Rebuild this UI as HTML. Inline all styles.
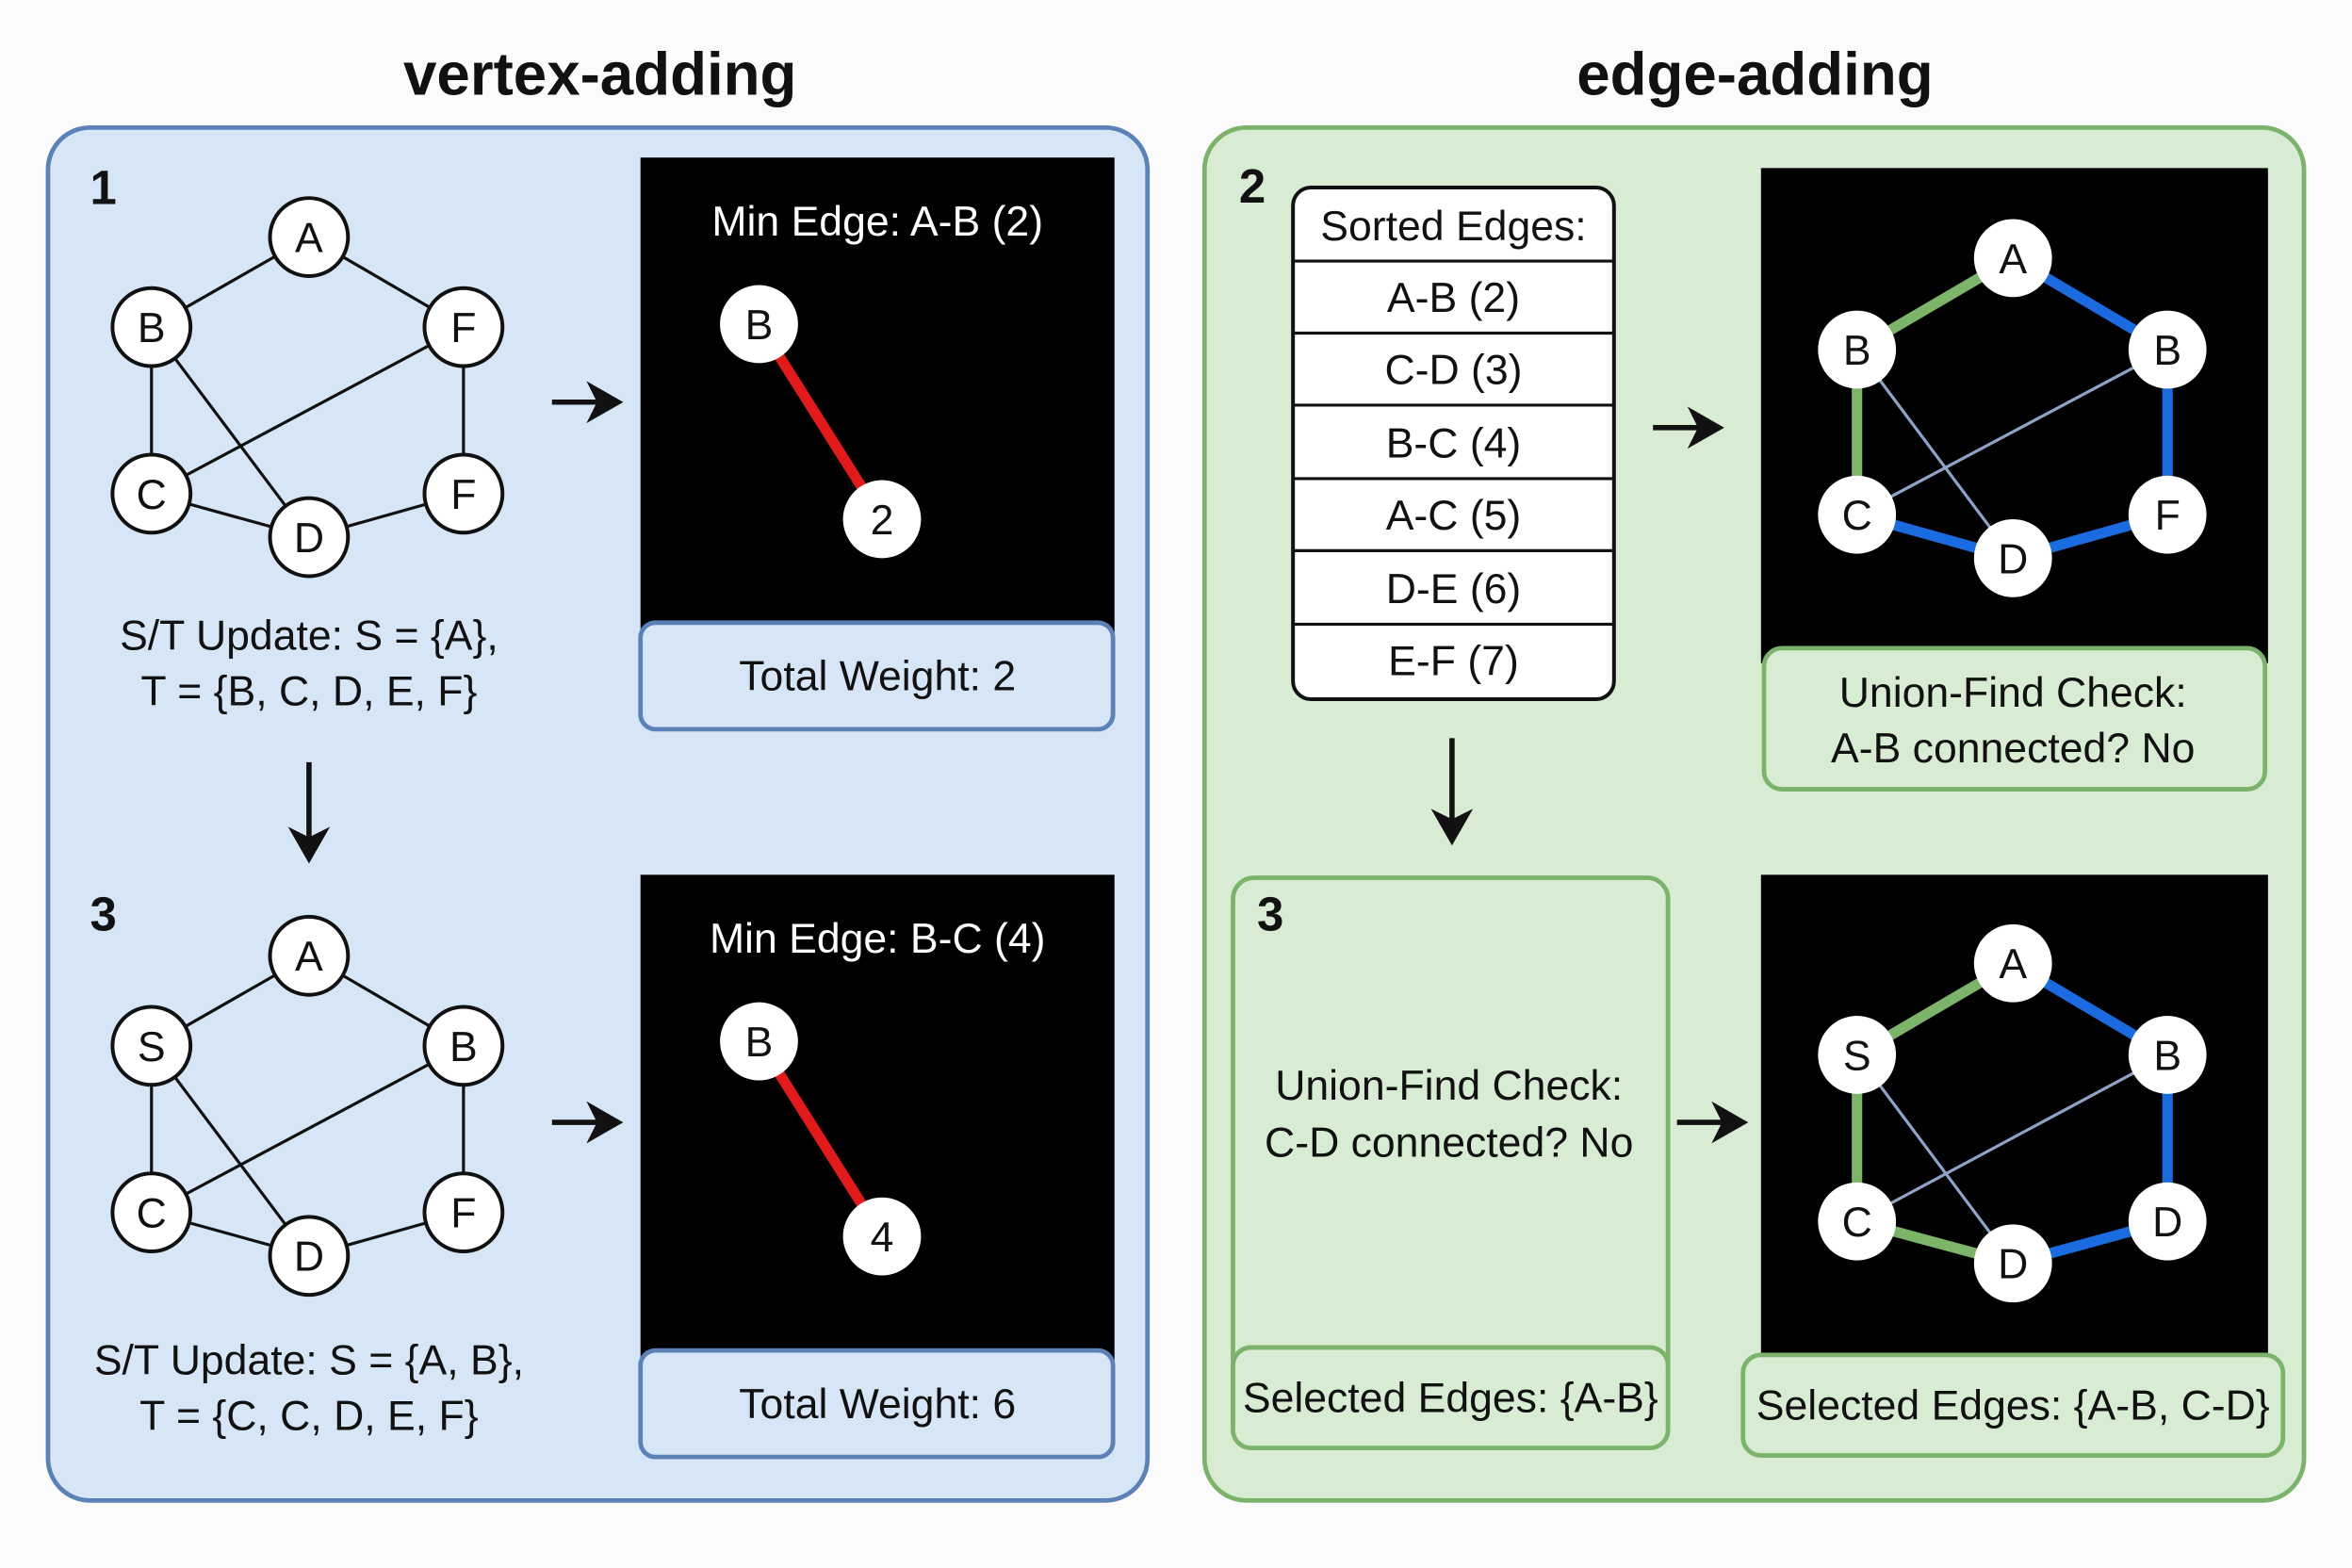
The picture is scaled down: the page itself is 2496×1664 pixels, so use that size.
<!DOCTYPE html>
<html><head><meta charset="utf-8"><style>
html,body{margin:0;padding:0;background:#fbfbfb;}
svg{display:block;}
text{font-family:"Liberation Sans",sans-serif;}
</style></head><body>
<svg width="2496" height="1664" viewBox="0 0 1568 1045" preserveAspectRatio="none" xmlns="http://www.w3.org/2000/svg">
<defs>
<marker id="ah" markerWidth="8" markerHeight="8" refX="6" refY="4" orient="auto" markerUnits="strokeWidth"><path d="M0,0 L7,4 L0,8 L2,4 Z" fill="#111"/></marker>
</defs>
<rect width="1568" height="1045" fill="#fbfbfb"/>
<text x="400" y="63" font-size="40" font-weight="bold" text-anchor="middle" fill="#111">vertex-adding</text>
<text x="1170" y="63" font-size="40" font-weight="bold" text-anchor="middle" fill="#111">edge-adding</text>

<rect x="32" y="85" width="733" height="915" rx="28" fill="#d6e6f6" stroke="#5b82b8" stroke-width="3"/>
<rect x="803" y="85" width="733" height="915" rx="28" fill="#d8ecd3" stroke="#7cb36a" stroke-width="3"/>

<!-- Left graph 1 -->
<text x="60" y="136" font-size="32" font-weight="bold" fill="#111">1</text>
<g stroke="#111" stroke-width="2">
<line x1="206" y1="158" x2="101" y2="218"/><line x1="206" y1="158" x2="309" y2="218"/>
<line x1="101" y1="218" x2="101" y2="329"/><line x1="101" y1="218" x2="206" y2="358"/>
<line x1="101" y1="329" x2="309" y2="218"/><line x1="101" y1="329" x2="206" y2="358"/>
<line x1="206" y1="358" x2="309" y2="329"/><line x1="309" y1="218" x2="309" y2="329"/>
</g>
<g fill="#fff" stroke="#111" stroke-width="2.5">
<circle cx="206" cy="158" r="26"/><circle cx="101" cy="218" r="26"/><circle cx="309" cy="218" r="26"/>
<circle cx="101" cy="329" r="26"/><circle cx="206" cy="358" r="26"/><circle cx="309" cy="329" r="26"/>
</g>
<g font-size="28" text-anchor="middle" fill="#111">
<text x="206" y="168">A</text><text x="101" y="228">B</text><text x="309" y="228">F</text>
<text x="101" y="339">C</text><text x="206" y="368">D</text><text x="309" y="339">F</text>
<text x="206" y="433">S/T Update: S = {A},</text><text x="206" y="470">T = {B, C, D, E, F}</text>
</g>
<line x1="368" y1="268" x2="412" y2="268" stroke="#111" stroke-width="3.5" marker-end="url(#ah)"/>
<line x1="206" y1="508" x2="206" y2="572" stroke="#111" stroke-width="3.5" marker-end="url(#ah)"/>
<rect x="427" y="105" width="316" height="320" fill="#000"/>
<rect x="427" y="415" width="315" height="71" rx="10" fill="#d6e6f6" stroke="#5b82b8" stroke-width="3"/>
<text x="585" y="157" font-size="28" fill="#fff" text-anchor="middle">Min Edge: A-B (2)</text>
<line x1="506" y1="216" x2="588" y2="346" stroke="#e41a1a" stroke-width="7"/>
<circle cx="506" cy="216" r="26" fill="#fff"/><circle cx="588" cy="346" r="26" fill="#fff"/>
<text x="506" y="226" font-size="28" text-anchor="middle" fill="#111">B</text>
<text x="588" y="356" font-size="28" text-anchor="middle" fill="#111">2</text>
<text x="585" y="460" font-size="28" text-anchor="middle" fill="#111">Total Weight: 2</text>

<!-- Left graph 3 -->
<text x="60" y="620" font-size="32" font-weight="bold" fill="#111">3</text>
<g stroke="#111" stroke-width="2">
<line x1="206" y1="637" x2="101" y2="697"/><line x1="206" y1="637" x2="309" y2="697"/>
<line x1="101" y1="697" x2="101" y2="808"/><line x1="101" y1="697" x2="206" y2="837"/>
<line x1="101" y1="808" x2="309" y2="697"/><line x1="101" y1="808" x2="206" y2="837"/>
<line x1="206" y1="837" x2="309" y2="808"/><line x1="309" y1="697" x2="309" y2="808"/>
</g>
<g fill="#fff" stroke="#111" stroke-width="2.5">
<circle cx="206" cy="637" r="26"/><circle cx="101" cy="697" r="26"/><circle cx="309" cy="697" r="26"/>
<circle cx="101" cy="808" r="26"/><circle cx="206" cy="837" r="26"/><circle cx="309" cy="808" r="26"/>
</g>
<g font-size="28" text-anchor="middle" fill="#111">
<text x="206" y="647">A</text><text x="101" y="707">S</text><text x="309" y="707">B</text>
<text x="101" y="818">C</text><text x="206" y="847">D</text><text x="309" y="818">F</text>
<text x="206" y="916">S/T Update: S = {A, B},</text><text x="206" y="953">T = {C, C, D, E, F}</text>
</g>
<line x1="368" y1="748" x2="412" y2="748" stroke="#111" stroke-width="3.5" marker-end="url(#ah)"/>
<rect x="427" y="583" width="316" height="325" fill="#000"/>
<rect x="427" y="900" width="315" height="71" rx="10" fill="#d6e6f6" stroke="#5b82b8" stroke-width="3"/>
<text x="585" y="635" font-size="28" fill="#fff" text-anchor="middle">Min Edge: B-C (4)</text>
<line x1="506" y1="694" x2="588" y2="824" stroke="#e41a1a" stroke-width="7"/>
<circle cx="506" cy="694" r="26" fill="#fff"/><circle cx="588" cy="824" r="26" fill="#fff"/>
<text x="506" y="704" font-size="28" text-anchor="middle" fill="#111">B</text>
<text x="588" y="834" font-size="28" text-anchor="middle" fill="#111">4</text>
<text x="585" y="945" font-size="28" text-anchor="middle" fill="#111">Total Weight: 6</text>

<!-- Right top -->
<text x="826" y="135" font-size="32" font-weight="bold" fill="#111">2</text>
<rect x="862" y="125" width="214" height="341" rx="12" fill="#fff" stroke="#111" stroke-width="2.5"/>
<g stroke="#111" stroke-width="2">
<line x1="862" y1="174" x2="1076" y2="174"/><line x1="862" y1="222" x2="1076" y2="222"/>
<line x1="862" y1="270" x2="1076" y2="270"/><line x1="862" y1="319" x2="1076" y2="319"/>
<line x1="862" y1="367" x2="1076" y2="367"/><line x1="862" y1="416" x2="1076" y2="416"/>
</g>
<g font-size="28" text-anchor="middle" fill="#111">
<text x="969" y="160">Sorted Edges:</text>
<text x="969" y="208">A-B (2)</text><text x="969" y="256">C-D (3)</text><text x="969" y="305">B-C (4)</text>
<text x="969" y="353">A-C (5)</text><text x="969" y="402">D-E (6)</text><text x="969" y="450">E-F (7)</text>
</g>
<line x1="1102" y1="285" x2="1146" y2="285" stroke="#111" stroke-width="3.5" marker-end="url(#ah)"/>
<line x1="968" y1="492" x2="968" y2="560" stroke="#111" stroke-width="3.5" marker-end="url(#ah)"/>
<rect x="1174" y="112" width="338" height="330" fill="#000"/>
<line x1="1238" y1="233" x2="1342" y2="372" stroke="#8ea3c8" stroke-width="2"/>
<line x1="1238" y1="343" x2="1445" y2="233" stroke="#8ea3c8" stroke-width="2"/>
<g stroke-width="7">
<line x1="1342" y1="172" x2="1238" y2="233" stroke="#7cb46a"/><line x1="1238" y1="233" x2="1238" y2="343" stroke="#7cb46a"/>
<line x1="1342" y1="172" x2="1445" y2="233" stroke="#1a6be0"/><line x1="1238" y1="343" x2="1342" y2="372" stroke="#1a6be0"/>
<line x1="1342" y1="372" x2="1445" y2="343" stroke="#1a6be0"/><line x1="1445" y1="233" x2="1445" y2="343" stroke="#1a6be0"/>
</g>
<g fill="#fff">
<circle cx="1342" cy="172" r="26"/><circle cx="1238" cy="233" r="26"/><circle cx="1445" cy="233" r="26"/>
<circle cx="1238" cy="343" r="26"/><circle cx="1342" cy="372" r="26"/><circle cx="1445" cy="343" r="26"/>
</g>
<g font-size="28" text-anchor="middle" fill="#111">
<text x="1342" y="182">A</text><text x="1238" y="243">B</text><text x="1445" y="243">B</text>
<text x="1238" y="353">C</text><text x="1342" y="382">D</text><text x="1445" y="353">F</text>
</g>
<rect x="1176" y="432" width="334" height="94" rx="12" fill="#d8ecd3" stroke="#7cb36a" stroke-width="3"/>
<text x="1342" y="471" font-size="28" text-anchor="middle" fill="#111">Union-Find Check:</text>
<text x="1342" y="508" font-size="28" text-anchor="middle" fill="#111">A-B connected? No</text>

<!-- Right bottom -->
<rect x="822" y="585" width="290" height="380" rx="14" fill="#d8ecd3" stroke="#7cb36a" stroke-width="3"/>
<text x="838" y="620" font-size="32" font-weight="bold" fill="#111">3</text>
<text x="966" y="733" font-size="28" text-anchor="middle" fill="#111">Union-Find Check:</text>
<text x="966" y="771" font-size="28" text-anchor="middle" fill="#111">C-D connected? No</text>
<rect x="822" y="898" width="290" height="67" rx="12" fill="#d8ecd3" stroke="#7cb36a" stroke-width="3"/>
<text x="967" y="941" font-size="28" text-anchor="middle" fill="#111">Selected Edges: {A-B}</text>
<line x1="1118" y1="748" x2="1162" y2="748" stroke="#111" stroke-width="3.5" marker-end="url(#ah)"/>
<rect x="1174" y="583" width="338" height="325" fill="#000"/>
<line x1="1238" y1="703" x2="1342" y2="842" stroke="#8ea3c8" stroke-width="2"/>
<line x1="1238" y1="814" x2="1445" y2="703" stroke="#8ea3c8" stroke-width="2"/>
<g stroke-width="7">
<line x1="1342" y1="642" x2="1238" y2="703" stroke="#7cb46a"/><line x1="1238" y1="703" x2="1238" y2="814" stroke="#7cb46a"/>
<line x1="1238" y1="814" x2="1342" y2="842" stroke="#7cb46a"/>
<line x1="1342" y1="642" x2="1445" y2="703" stroke="#1a6be0"/>
<line x1="1342" y1="842" x2="1445" y2="814" stroke="#1a6be0"/><line x1="1445" y1="703" x2="1445" y2="814" stroke="#1a6be0"/>
</g>
<g fill="#fff">
<circle cx="1342" cy="642" r="26"/><circle cx="1238" cy="703" r="26"/><circle cx="1445" cy="703" r="26"/>
<circle cx="1238" cy="814" r="26"/><circle cx="1342" cy="842" r="26"/><circle cx="1445" cy="814" r="26"/>
</g>
<g font-size="28" text-anchor="middle" fill="#111">
<text x="1342" y="652">A</text><text x="1238" y="713">S</text><text x="1445" y="713">B</text>
<text x="1238" y="824">C</text><text x="1342" y="852">D</text><text x="1445" y="824">D</text>
</g>
<rect x="1162" y="903" width="360" height="67" rx="12" fill="#d8ecd3" stroke="#7cb36a" stroke-width="3"/>
<text x="1342" y="946" font-size="28" text-anchor="middle" fill="#111">Selected Edges: {A-B, C-D}</text>
</svg>
</body></html>
